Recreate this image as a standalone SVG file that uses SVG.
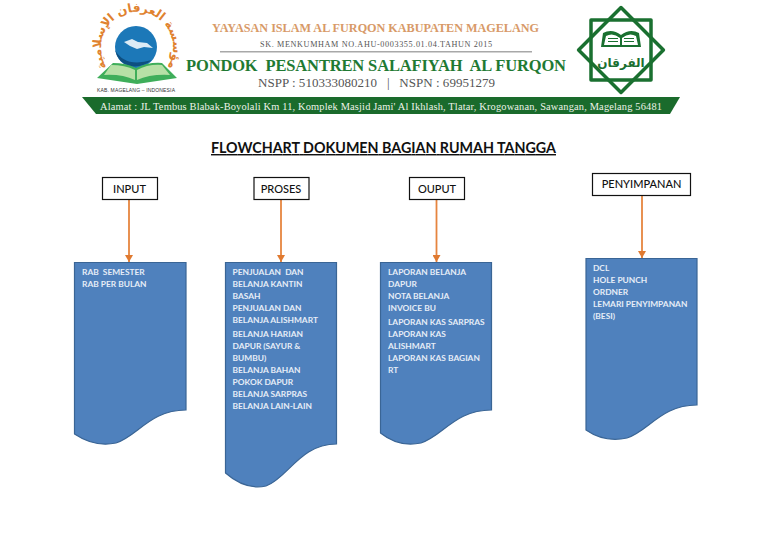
<svg xmlns="http://www.w3.org/2000/svg" width="768" height="543" viewBox="0 0 768 543">
<style>
.lbl{font:500 11px Lato,"Liberation Sans",sans-serif;fill:#111;text-anchor:middle}
.box{fill:#fff;stroke:#111;stroke-width:1.2}
.doc{fill:#4f81bd;stroke:#3a6595;stroke-width:1.2}
.t{font:700 8.4px Lato,"Liberation Sans",sans-serif;fill:#e6edf7}
.conn{stroke:#e6853f;stroke-width:1.8;fill:none;marker-end:url(#ah)}
.s{font-family:"Liberation Serif",serif}
</style>
<defs>
<marker id="ah" markerUnits="userSpaceOnUse" markerWidth="8" markerHeight="8" refX="7" refY="4" orient="auto"><path d="M0 0L7 4L0 8Z" fill="#e07a30"/></marker>
<path id="arc" d="M106 66A36 36 0 1 1 168 66" fill="none"/>
</defs>
<rect width="768" height="543" fill="#fff"/>
<g id="header">
<g id="logo-left">
<text font-family="'DejaVu Sans',sans-serif" font-size="12" font-weight="700" fill="#e0822f" direction="rtl"><textPath href="#arc" startOffset="50%" text-anchor="middle">مؤسسة العرفان الإسلامية</textPath></text>
<circle cx="136" cy="47" r="21" fill="#1c78b8"/>
<path d="M124 42l8-3 6 3 9 1 6 5-9-1-7 2-7-3z" fill="#dcebf5"/>
<path d="M115 50Q125 68 152 60Q142 68 130 66Q118 63 115 50Z" fill="#0e4f80"/>
<path d="M97 78L113 63Q126 63 136 68Q148 62 162 63L177 78L137 84Z" fill="#3fae5a"/>
<path d="M111 65Q125 65 135 70L135 80Q122 74 104 75Z" fill="#b7e0a6"/>
<path d="M137 70Q148 64 162 65L170 75Q150 74 137 80Z" fill="#b7e0a6"/>
<text x="97" y="91.500" textLength="78" font-family="'Liberation Sans',sans-serif" font-size="5" fill="#333">KAB. MAGELANG – INDONESIA</text>
</g>
<text x="212" y="32" textLength="327" class="s" font-size="12.200" font-weight="700" fill="#d89a68">YAYASAN ISLAM AL FURQON KABUPATEN MAGELANG</text>
<text x="260" y="46.500" textLength="232" class="s" font-size="8.200" fill="#555">SK. MENKUMHAM NO.AHU-0003355.01.04.TAHUN 2015</text>
<rect x="220" y="51" width="312" height="1.500" fill="#a8a8a8"/>
<text x="186" y="71" textLength="380" class="s" font-size="16.500" font-weight="700" fill="#1f7a33" xml:space="preserve">PONDOK  PESANTREN SALAFIYAH  AL FURQON</text>
<text x="258" y="87" textLength="237" class="s" font-size="13" fill="#555" xml:space="preserve">NSPP : 510333080210   |   NSPN : 69951279</text>
<path d="M82 97L680 97L670 114L96 114Z" fill="#1a6b2c"/>
<text x="100" y="110" textLength="562" class="s" font-size="10.400" fill="#eef3ea">Alamat : JL Tembus Blabak-Boyolali Km 11, Komplek Masjid Jami' Al Ikhlash, Tlatar, Krogowanan, Sawangan, Magelang 56481</text>
<g id="logo-right" fill="none" stroke="#1a7030" stroke-width="3.500" stroke-linejoin="round">
<rect x="591" y="20" width="60" height="60"/>
<rect x="591" y="20" width="60" height="60" transform="rotate(45 621 50)"/>
<path d="M603 33Q612 28 621 35Q630 28 639 33L641 47H601Z" fill="#1a7030" stroke="none"/>
<path d="M606 36Q613 32 620 38V45H604ZM622 38Q629 32 636 36L638 45H622Z" fill="#fff" stroke="none"/>
<path d="M608 38.500h10M608 41.500h10M624 38.500h10M624 41.500h10" stroke-width="1"/>
<text x="621" y="67" font-family="'DejaVu Sans',sans-serif" font-size="12" font-weight="700" fill="#1a7030" stroke="none" text-anchor="middle">الفرقان</text>
</g>
</g>
<text x="211" y="153" textLength="345" font-family="Lato,'Liberation Sans',sans-serif" font-size="14.300" font-weight="700" fill="#111" text-decoration="underline">FLOWCHART DOKUMEN BAGIAN RUMAH TANGGA</text>
<g id="connectors">
<line class="conn" x1="129" y1="199.500" x2="129" y2="262"/>
<line class="conn" x1="281" y1="199.500" x2="281" y2="262"/>
<line class="conn" x1="436.500" y1="200" x2="436.500" y2="262"/>
<line class="conn" x1="642" y1="195.500" x2="642" y2="258"/>
</g>
<g id="input">
<rect class="box" x="102.500" y="177.500" width="55" height="22"/>
<text class="lbl" x="129.500" y="193">INPUT</text>
<path class="doc" d="M74.500 262.500H186V410C150 410 138 436 116 443C102 446 88 443 74.500 434Z"/>
<text class="t" x="82" y="275" xml:space="preserve">RAB  SEMESTER</text>
<text class="t" x="82" y="287">RAB PER BULAN</text>
</g>
<g id="proses">
<rect class="box" x="254" y="177.500" width="55" height="22"/>
<text class="lbl" x="281" y="193">PROSES</text>
<path class="doc" d="M225.500 262.500H336.500V444C300 444 288 478 266 486C252 489 238 484 225.500 473Z"/>
<text class="t" x="232.500" y="275" xml:space="preserve">PENJUALAN  DAN</text>
<text class="t" x="232.500" y="287">BELANJA KANTIN</text>
<text class="t" x="232.500" y="299">BASAH</text>
<text class="t" x="232.500" y="311">PENJUALAN DAN</text>
<text class="t" x="232.500" y="323">BELANJA ALISHMART</text>
<text class="t" x="232.500" y="337">BELANJA HARIAN</text>
<text class="t" x="232.500" y="349">DAPUR (SAYUR &amp;</text>
<text class="t" x="232.500" y="361">BUMBU)</text>
<text class="t" x="232.500" y="373">BELANJA BAHAN</text>
<text class="t" x="232.500" y="385">POKOK DAPUR</text>
<text class="t" x="232.500" y="397">BELANJA SARPRAS</text>
<text class="t" x="232.500" y="409">BELANJA LAIN-LAIN</text>
</g>
<g id="ouput">
<rect class="box" x="409.500" y="177.500" width="55" height="22"/>
<text class="lbl" x="437" y="193">OUPUT</text>
<path class="doc" d="M380.500 262.500H491.500V410C455 410 443 436 421 443C407 446 393 443 380.500 433Z"/>
<text class="t" x="388" y="275">LAPORAN BELANJA</text>
<text class="t" x="388" y="287">DAPUR</text>
<text class="t" x="388" y="299">NOTA BELANJA</text>
<text class="t" x="388" y="311">INVOICE BU</text>
<text class="t" x="388" y="325">LAPORAN KAS SARPRAS</text>
<text class="t" x="388" y="337">LAPORAN KAS</text>
<text class="t" x="388" y="349">ALISHMART</text>
<text class="t" x="388" y="361">LAPORAN KAS BAGIAN</text>
<text class="t" x="388" y="373">RT</text>
</g>
<g id="penyimpanan">
<rect class="box" x="592.500" y="173.500" width="98" height="22"/>
<text class="lbl" x="641.500" y="188">PENYIMPANAN</text>
<path class="doc" d="M586 258.500H697V405C661 405 649 431 627 438C613 441 599 439 586 430Z"/>
<text class="t" x="593" y="271">DCL</text>
<text class="t" x="593" y="283">HOLE PUNCH</text>
<text class="t" x="593" y="295">ORDNER</text>
<text class="t" x="593" y="307">LEMARI PENYIMPANAN</text>
<text class="t" x="593" y="319">(BESI)</text>
</g>
</svg>
